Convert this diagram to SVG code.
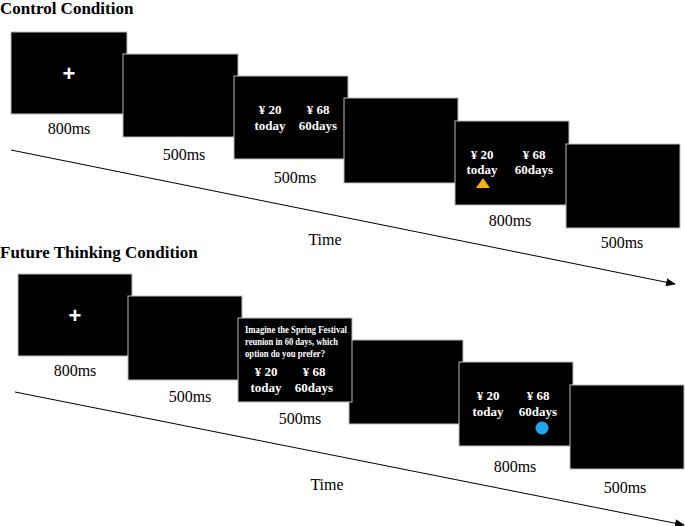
<svg xmlns="http://www.w3.org/2000/svg" width="685" height="526" viewBox="0 0 685 526">
<style>
.s{fill:#000;stroke:#bbb;stroke-width:1}
.t{font-family:"Liberation Serif",serif;font-size:16px;fill:#000;text-anchor:middle}
.h{font-family:"Liberation Serif",serif;font-size:17px;font-weight:bold;fill:#000}
.w{font-family:"Liberation Serif",serif;font-size:13px;font-weight:bold;fill:#fff;text-anchor:middle}
.q{font-family:"Liberation Serif",serif;font-size:9.8px;font-weight:bold;fill:#fff}
.l{stroke:#000;stroke-width:1;fill:none}
</style>
<defs><marker id="a" markerWidth="10" markerHeight="8" refX="9" refY="4" orient="auto" markerUnits="userSpaceOnUse"><path d="M0,0L10,4L0,8z" fill="#000"/></marker></defs>
<text class="h" x="0" y="14">Control Condition</text>
<text class="h" x="0" y="258">Future Thinking Condition</text>
<g id="connectors">
<line class="l" x1="11" y1="150" x2="675" y2="284" marker-end="url(#a)"/>
<line class="l" x1="15" y1="392" x2="684" y2="525" marker-end="url(#a)"/>
</g>
<g id="c1"><rect class="s" x="11" y="32" width="116" height="82"/><text x="69" y="81" fill="#fff" font-family="Liberation Sans,sans-serif" font-size="22" font-weight="bold" text-anchor="middle">+</text><text class="t" x="69" y="134">800ms</text></g>
<g id="c2"><rect class="s" x="123" y="54" width="115" height="83"/><text class="t" x="184" y="160">500ms</text></g>
<g id="c3"><rect class="s" x="234" y="76" width="114" height="83"/><text class="w" x="270" y="114">¥ 20</text><text class="w" x="270" y="130">today</text><text class="w" x="318" y="114">¥ 68</text><text class="w" x="318" y="130">60days</text><text class="t" x="295" y="183">500ms</text></g>
<g id="c4"><rect class="s" x="344" y="98" width="114" height="85"/></g>
<g id="c5"><rect class="s" x="455" y="121" width="114" height="84"/><text class="w" x="482" y="159">¥ 20</text><text class="w" x="482" y="174">today</text><text class="w" x="534" y="159">¥ 68</text><text class="w" x="534" y="174">60days</text><path d="M483,178L490,188L476,188z" fill="#f5b400"/><text class="t" x="510" y="226">800ms</text></g>
<g id="c6"><rect class="s" x="566" y="144" width="114" height="84"/><text class="t" x="622" y="248">500ms</text></g>
<text class="t" x="325" y="245">Time</text>
<g id="f1"><rect class="s" x="18" y="274" width="114" height="82"/><text x="75" y="323" fill="#fff" font-family="Liberation Sans,sans-serif" font-size="22" font-weight="bold" text-anchor="middle">+</text><text class="t" x="75" y="376">800ms</text></g>
<g id="f2"><rect class="s" x="128" y="296" width="114" height="84"/><text class="t" x="190" y="402">500ms</text></g>
<g id="f4"><rect class="s" x="349" y="340" width="114" height="84"/></g>
<g id="f3"><rect class="s" x="238" y="318" width="114" height="84"/><text class="q" x="245" y="333" textLength="102" lengthAdjust="spacingAndGlyphs">Imagine the Spring Festival</text><text class="q" x="245" y="345" textLength="93" lengthAdjust="spacingAndGlyphs">reunion in 60 days, which</text><text class="q" x="245" y="357" textLength="80" lengthAdjust="spacingAndGlyphs">option do you prefer?</text><text class="w" x="266" y="376">¥ 20</text><text class="w" x="266" y="392">today</text><text class="w" x="314" y="376">¥ 68</text><text class="w" x="314" y="392">60days</text><text class="t" x="300" y="424">500ms</text></g>
<g id="f5"><rect class="s" x="459" y="362" width="114" height="84"/><text class="w" x="488" y="400">¥ 20</text><text class="w" x="488" y="416">today</text><text class="w" x="538" y="400">¥ 68</text><text class="w" x="538" y="416">60days</text><circle cx="542" cy="428" r="6.5" fill="#1ea7f0"/><text class="t" x="515" y="472">800ms</text></g>
<g id="f6"><rect class="s" x="570" y="385" width="114" height="84"/><text class="t" x="625" y="493">500ms</text></g>
<text class="t" x="327" y="490">Time</text>
</svg>
